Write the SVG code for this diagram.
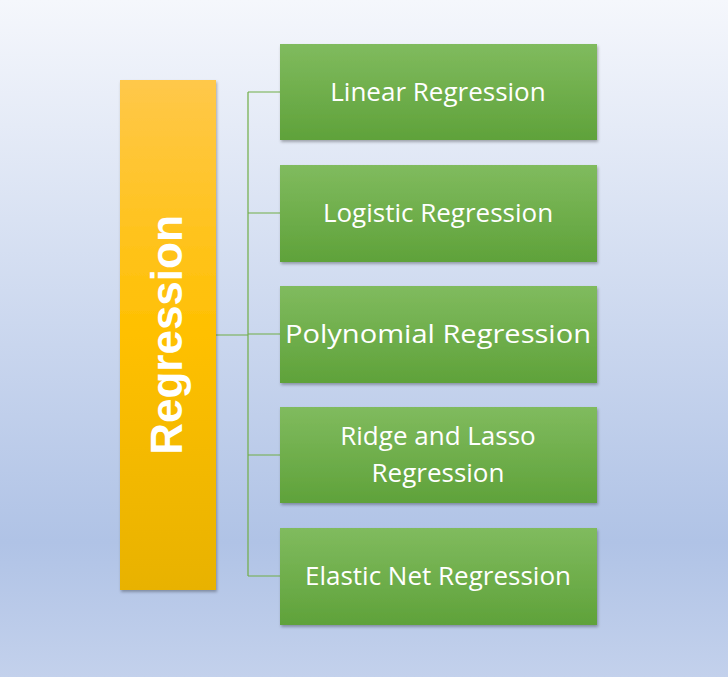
<svg xmlns="http://www.w3.org/2000/svg" width="728" height="677" viewBox="0 0 728 677">
<defs>
<linearGradient id="bg" x1="0" y1="0" x2="0" y2="1"><stop offset="0" stop-color="#f5f7fc"/><stop offset="0.8" stop-color="#b0c3e6"/><stop offset="1" stop-color="#c3d1ec"/></linearGradient>
<linearGradient id="gold" x1="0" y1="0" x2="0" y2="1"><stop offset="0" stop-color="#ffc84a"/><stop offset="0.5" stop-color="#ffc000"/><stop offset="1" stop-color="#e8b200"/></linearGradient>
<linearGradient id="green" x1="0" y1="0" x2="0" y2="1"><stop offset="0" stop-color="#80bb5e"/><stop offset="1" stop-color="#5fa23a"/></linearGradient>
<filter id="sh" x="-10%" y="-10%" width="120%" height="120%"><feDropShadow dx="1" dy="2" stdDeviation="1.5" flood-color="#000" flood-opacity="0.3"/></filter>
<style>
.box{fill:url(#green);filter:url(#sh)}
.t{font-family:"Open Sans","Noto Sans",sans-serif;font-size:26px;fill:#fff;text-anchor:middle}
.c{stroke:#70ad47;stroke-width:1.2;fill:none}
</style>
</defs>
<rect width="728" height="677" fill="url(#bg)"/>
<g id="connectors">
<path class="c" d="M216 335H248M248 92V576M248 92H280M248 213H280M248 334H280M248 455H280M248 576H280"/>
</g>
<g id="regression">
<rect x="120" y="80" width="96" height="510" fill="url(#gold)" filter="url(#sh)"/>
<text transform="translate(182,335) rotate(-90)" text-anchor="middle" font-family="Liberation Sans,Arial,sans-serif" font-weight="bold" font-size="44" fill="#fff">Regression</text>
</g>
<g id="linear"><rect class="box" x="280" y="44" width="317" height="96"/><text class="t" x="438" y="101">Linear Regression</text></g>
<g id="logistic"><rect class="box" x="280" y="165" width="317" height="97"/><text class="t" x="438" y="222">Logistic Regression</text></g>
<g id="polynomial"><rect class="box" x="280" y="286" width="317" height="97"/><text class="t" x="438" y="343" textLength="306" lengthAdjust="spacingAndGlyphs">Polynomial Regression</text></g>
<g id="ridge"><rect class="box" x="280" y="407" width="317" height="96"/><text class="t" x="438" y="445">Ridge and Lasso</text><text class="t" x="438" y="482">Regression</text></g>
<g id="elastic"><rect class="box" x="280" y="528" width="317" height="97"/><text class="t" x="438" y="585">Elastic Net Regression</text></g>
</svg>
